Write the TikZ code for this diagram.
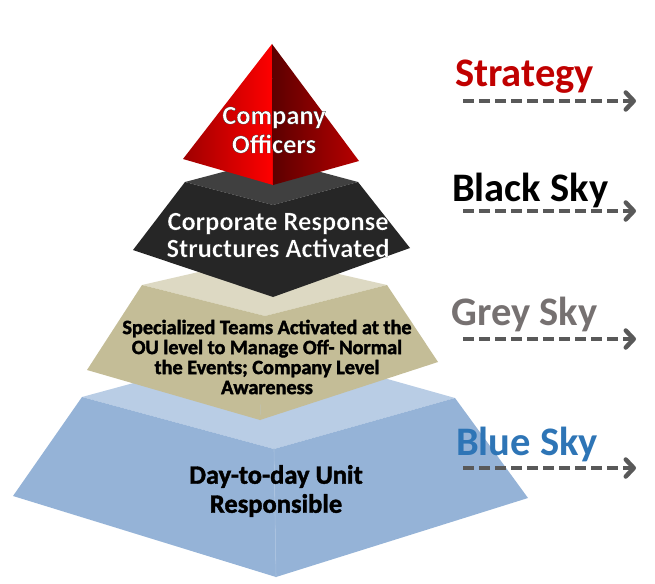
\documentclass[tikz,border=0pt]{standalone}
\usepackage{fontspec}
\setmainfont{Carlito}
\usetikzlibrary{arrows.meta}

\definecolor{skyred}{HTML}{C00000}
\definecolor{skygrey}{HTML}{767171}
\definecolor{skyblue}{HTML}{2E75B6}
\definecolor{arrowgrey}{HTML}{595959}
\definecolor{bluetop}{HTML}{B9CDE5}
\definecolor{blueside}{HTML}{95B3D7}
\definecolor{tantop}{HTML}{DDD9C3}
\definecolor{tanside}{HTML}{C4BD97}
\definecolor{darktop}{HTML}{404040}
\definecolor{darkside}{HTML}{262626}

% outlined glyphs: fill, then stroke in black
\newcommand{\rimon}[1]{\special{pdf:literal direct 2 Tr #1 w 0 0 0 RG}}
\newcommand{\rimoff}{\special{pdf:literal direct 0 Tr}}

\tikzset{
    py text/.style={align=center, inner sep=0pt,
                    font=\bfseries\fontsize{26.5}{29}\selectfont},
    py small/.style={align=center, inner sep=0pt,
                     font=\bfseries\fontsize{20.3}{20}\selectfont},
    sky lbl/.style={anchor=base west, inner sep=0pt,
                    font=\bfseries\fontsize{40.5}{44}\selectfont},
    sky arrow/.style={arrowgrey, line width=4.5pt,
                      dash pattern=on 11pt off 5pt,
                      -{Straight Barb[length=8pt, width=17pt, line cap=round, line join=round]}},
}

\begin{document}
\begin{tikzpicture}[x=1pt, y=-1pt]
    \useasboundingbox (0,0) rectangle (655,583);
    % Blue layer (bottom)
    \fill[bluetop] (82,397) -- (270,346) -- (455,398) -- (274,449) -- cycle;
    \fill[blueside] (82,397) -- (274,449) -- (276,577) -- (13,496) -- cycle;
    \fill[blueside] (274,449) -- (455,398) -- (528,498) -- (276,577) -- cycle;
    \draw[blueside!80!white, line width=0.6pt] (274,449) -- (276,577);
    % Tan layer
    \fill[tantop] (142,285) -- (264,257) -- (387,285) -- (265,316) -- cycle;
    \fill[tanside] (142,285) -- (265,316) -- (260,420) -- (87,370) -- cycle;
    \fill[tanside] (265,316) -- (387,285) -- (438,362) -- (260,420) -- cycle;
    % Dark layer
    \fill[darktop] (185,182) -- (272,159) -- (358,182) -- (273,205) -- cycle;
    \fill[darkside] (185,182) -- (273,205) -- (273,297) -- (133,250) -- cycle;
    \fill[darkside] (273,205) -- (358,182) -- (410,248) -- (273,297) -- cycle;
    % Red pyramid (top)
    \shade[left color=red!62!black, right color=red]
        (272,44) -- (273,185) -- (183,159) -- cycle;
    \shade[left color=red!36!black, right color=red!72!black]
        (272,44) -- (359,161) -- (273,185) -- cycle;

    % Layer texts
    \node[py text, text=white] (officers) at (274,130)
        {\rimon{0.15}Company\\Officers\rimoff};
    \node[py text, text=white, font=\bfseries\fontsize{26.5}{27}\selectfont] (corporate) at (278,235)
        {\rimon{0.15}Corporate Response\\Structures Activated\rimoff};
    \node[py small] (teams) at (267,357)
        {\rimon{0.4}Specialized Teams Activated at the\\OU level to Manage Off- Normal\\the Events; Company Level\\Awareness\rimoff};
    \node[py text] (unit) at (276,491)
        {\rimon{0.4}Day-to-day Unit\\Responsible\rimoff};

    % Sky labels
    \node[sky lbl, text=skyred] (strategy) at (455,87) {Strategy};
    \node[sky lbl, text=black] (blacksky) at (452,201.5) {Black Sky};
    \node[sky lbl, text=skygrey] (greysky) at (451.5,325) {Grey Sky};
    \node[sky lbl, text=skyblue] (bluesky) at (456,455) {Blue Sky};

    % Dashed arrows
    \coordinate (s1) at (463,101);   \coordinate (e1) at (636,101);
    \coordinate (s2) at (463,211);   \coordinate (e2) at (636,211);
    \coordinate (s3) at (463,339);   \coordinate (e3) at (636,339);
    \coordinate (s4) at (463,468);   \coordinate (e4) at (636,468);
    \draw[sky arrow] (s1) -- (e1);
    \draw[sky arrow] (s2) -- (e2);
    \draw[sky arrow] (s3) -- (e3);
    \draw[sky arrow] (s4) -- (e4);
\end{tikzpicture}
\end{document}
